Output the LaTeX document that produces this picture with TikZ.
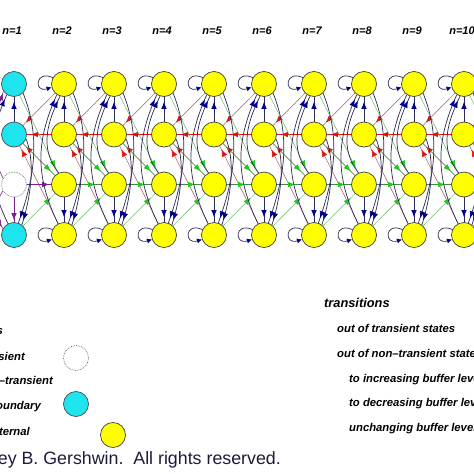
\documentclass[tikz,border=0pt]{standalone}
\usepackage{fontspec}
\setmainfont{Liberation Sans}
\usetikzlibrary{arrows.meta,decorations.markings}
\definecolor{yel}{HTML}{FFFF00}
\definecolor{cya}{HTML}{1EE4EE}
\definecolor{navyl}{HTML}{2B2B55}
\definecolor{navyh}{HTML}{00008C}
\definecolor{redl}{HTML}{B05858}
\definecolor{redh}{HTML}{DD1111}
\definecolor{grel}{HTML}{66BB66}
\definecolor{greh}{HTML}{18CC18}
\definecolor{purl}{HTML}{7A1E8C}
\definecolor{copyc}{HTML}{1C1C3C}
\tikzset{
  st/.style={circle, minimum size=25pt, inner sep=0pt, line width=0.7pt},
  internal/.style={st, draw=black!75, fill=yel},
  bound/.style={st, draw=black!70, fill=cya},
  trans/.style={st, draw=black!60, densely dotted, fill=white},
  hd/.style 2 args={postaction={decorate}, decoration={markings, mark=at position #1 with {\arrow{Latex[length=7pt,width=5.5pt,color=#2]}}}},
  unch/.style={draw=navyl, line width=0.7pt, hd={-5pt}{navyh}},
  decr/.style={draw=redl, line width=0.5pt, hd={-4pt}{redh}},
  decrh/.style={draw=redh, line width=1.1pt, hd={-4pt}{redh}},
  incr/.style={draw=grel, line width=0.5pt, hd={-6pt}{greh}},
  incrh/.style={draw=grel!70!black, line width=0.6pt, hd={-6pt}{greh}},
  outt/.style={draw=purl, line width=0.6pt, hd={-2pt}{purl}},
  lbl/.style={inner sep=0pt, font=\bfseries\itshape\fontsize{11}{13}\selectfont},
  leg/.style={inner sep=0pt, font=\bfseries\itshape\fontsize{11.3}{13}\selectfont},
  legh/.style={inner sep=0pt, font=\bfseries\itshape\fontsize{12.8}{15}\selectfont},
  loopst/.style={draw=navyl, line width=0.7pt, -{Latex[length=5pt,width=5pt,color=navyh]}},
}
\begin{document}
\begin{tikzpicture}[x=1pt,y=-1pt]
\useasboundingbox (0,0) rectangle (474,474);
\clip (0,0) rectangle (474,474);
\fill[white] (0,0) rectangle (474,474);

% ---- states
\node[bound] (s1r1) at (14,84) {};
\node[bound] (s1r2) at (14,134.5) {};
\node[trans] (s1r3) at (14,184.5) {};
\node[bound] (s1r4) at (14,235) {};
\foreach \n in {2,...,11}{
  \pgfmathsetmacro\X{14+50*(\n-1)}
  \node[internal] (s\n r1) at (\X,84) {};
  \node[internal] (s\n r2) at (\X,134.5) {};
  \node[internal] (s\n r3) at (\X,184.5) {};
  \node[internal] (s\n r4) at (\X,235) {};
}
% ---- column labels
\foreach \n in {1,...,10}{
  \pgfmathsetmacro\X{14+50*(\n-1)}
  \node[lbl, anchor=base] (lab\n) at (\X-2,34.5) {n=\n};
}
% ---- self loops
\foreach \n in {2,...,10}{
  \draw[loopst] (s\n r1.150) .. controls +(-18,-8) and +(-18,6) .. (s\n r1.195);
  \draw[loopst] (s\n r4.155) .. controls +(-18,-8) and +(-18,6) .. (s\n r4.200);
}
% ---- transitions between neighbouring columns
\foreach \n [count=\m from 2] in {1,...,10}{
  \draw[decr] (s\m r1) -- (s\n r2);
  \draw[decrh] (s\m r2) -- (s\n r2);
  \draw[decr] (s\m r3) -- (s\n r2);
  \draw[decr] (s\m r4) -- (s\n r2);
  \draw[incr] (s\n r1) -- (s\m r3);
  \draw[incr] (s\n r2) -- (s\m r3);
  \draw[incr] (s\n r4) -- (s\m r3);
  \ifnum\n=1
    \draw[outt] (s\n r3) -- (s\m r3);
  \else
    \draw[incrh] (s\n r3) -- (s\m r3);
  \fi
}
% ---- transitions within a column
\foreach \n in {1,...,10}{
  \draw[unch] (s\n r2.north) -- (s\n r1.south);
  \draw[unch] (s\n r4.118) .. controls +(-24,-50) and +(-20,45) .. (s\n r1.236);
  \draw[unch] (s\n r1.315) .. controls +(18,45) and +(16,-45) .. (s\n r4.70);
  \draw[unch] (s\n r2.340) .. controls +(10,25) and +(8,-25) .. (s\n r4.52);
  \ifnum\n=1
    \draw[outt] (s\n r3.south) -- (s\n r4.north);
  \else
    \draw[unch] (s\n r3.115) .. controls +(-20,-25) and +(-12,25) .. (s\n r1.252);
    \draw[unch] (s\n r3.south) -- (s\n r4.north);
  \fi
}
% transient state at n=1
\draw[outt] (s1r3.150) .. controls +(-14,-30) and +(-12,35) .. (s1r1.215);
\draw[outt] (s1r3.210) .. controls +(-8,12) and +(-8,-12) .. (s1r4.150);

% ---- legend: states
\node[leg, anchor=base east] (lgs) at (3,334) {states};
\node[leg, anchor=base east] (lgt) at (25,360) {transient};
\node[trans] (lgtc) at (76,358) {};
\node[leg, anchor=base east] (lgn) at (53,384) {non–transient};
\node[leg, anchor=base east] (lgb) at (41,409) {boundary};
\node[bound] (lgbc) at (76,404) {};
\node[leg, anchor=base east] (lgi) at (30,435) {internal};
\node[internal] (lgic) at (113,435) {};

% ---- legend: transitions
\node[legh, anchor=base west] (lgtr) at (324,307) {transitions};
\node[leg, anchor=base west] (lg1) at (337,332) {out of transient states};
\node[leg, anchor=base west] (lg2) at (337,357) {out of non–transient states};
\node[leg, anchor=base west] (lg3) at (349,382) {to increasing buffer level};
\node[leg, anchor=base west] (lg4) at (349,406) {to decreasing buffer level};
\node[leg, anchor=base west] (lg5) at (349,431) {unchanging buffer level};

% ---- copyright
\node[inner sep=0pt, anchor=base east, text=copyc, font=\fontsize{17.8}{20}\selectfont] (copy) at (281,464) {Stanley B. Gershwin.~~All rights reserved.};
\end{tikzpicture}
\end{document}
